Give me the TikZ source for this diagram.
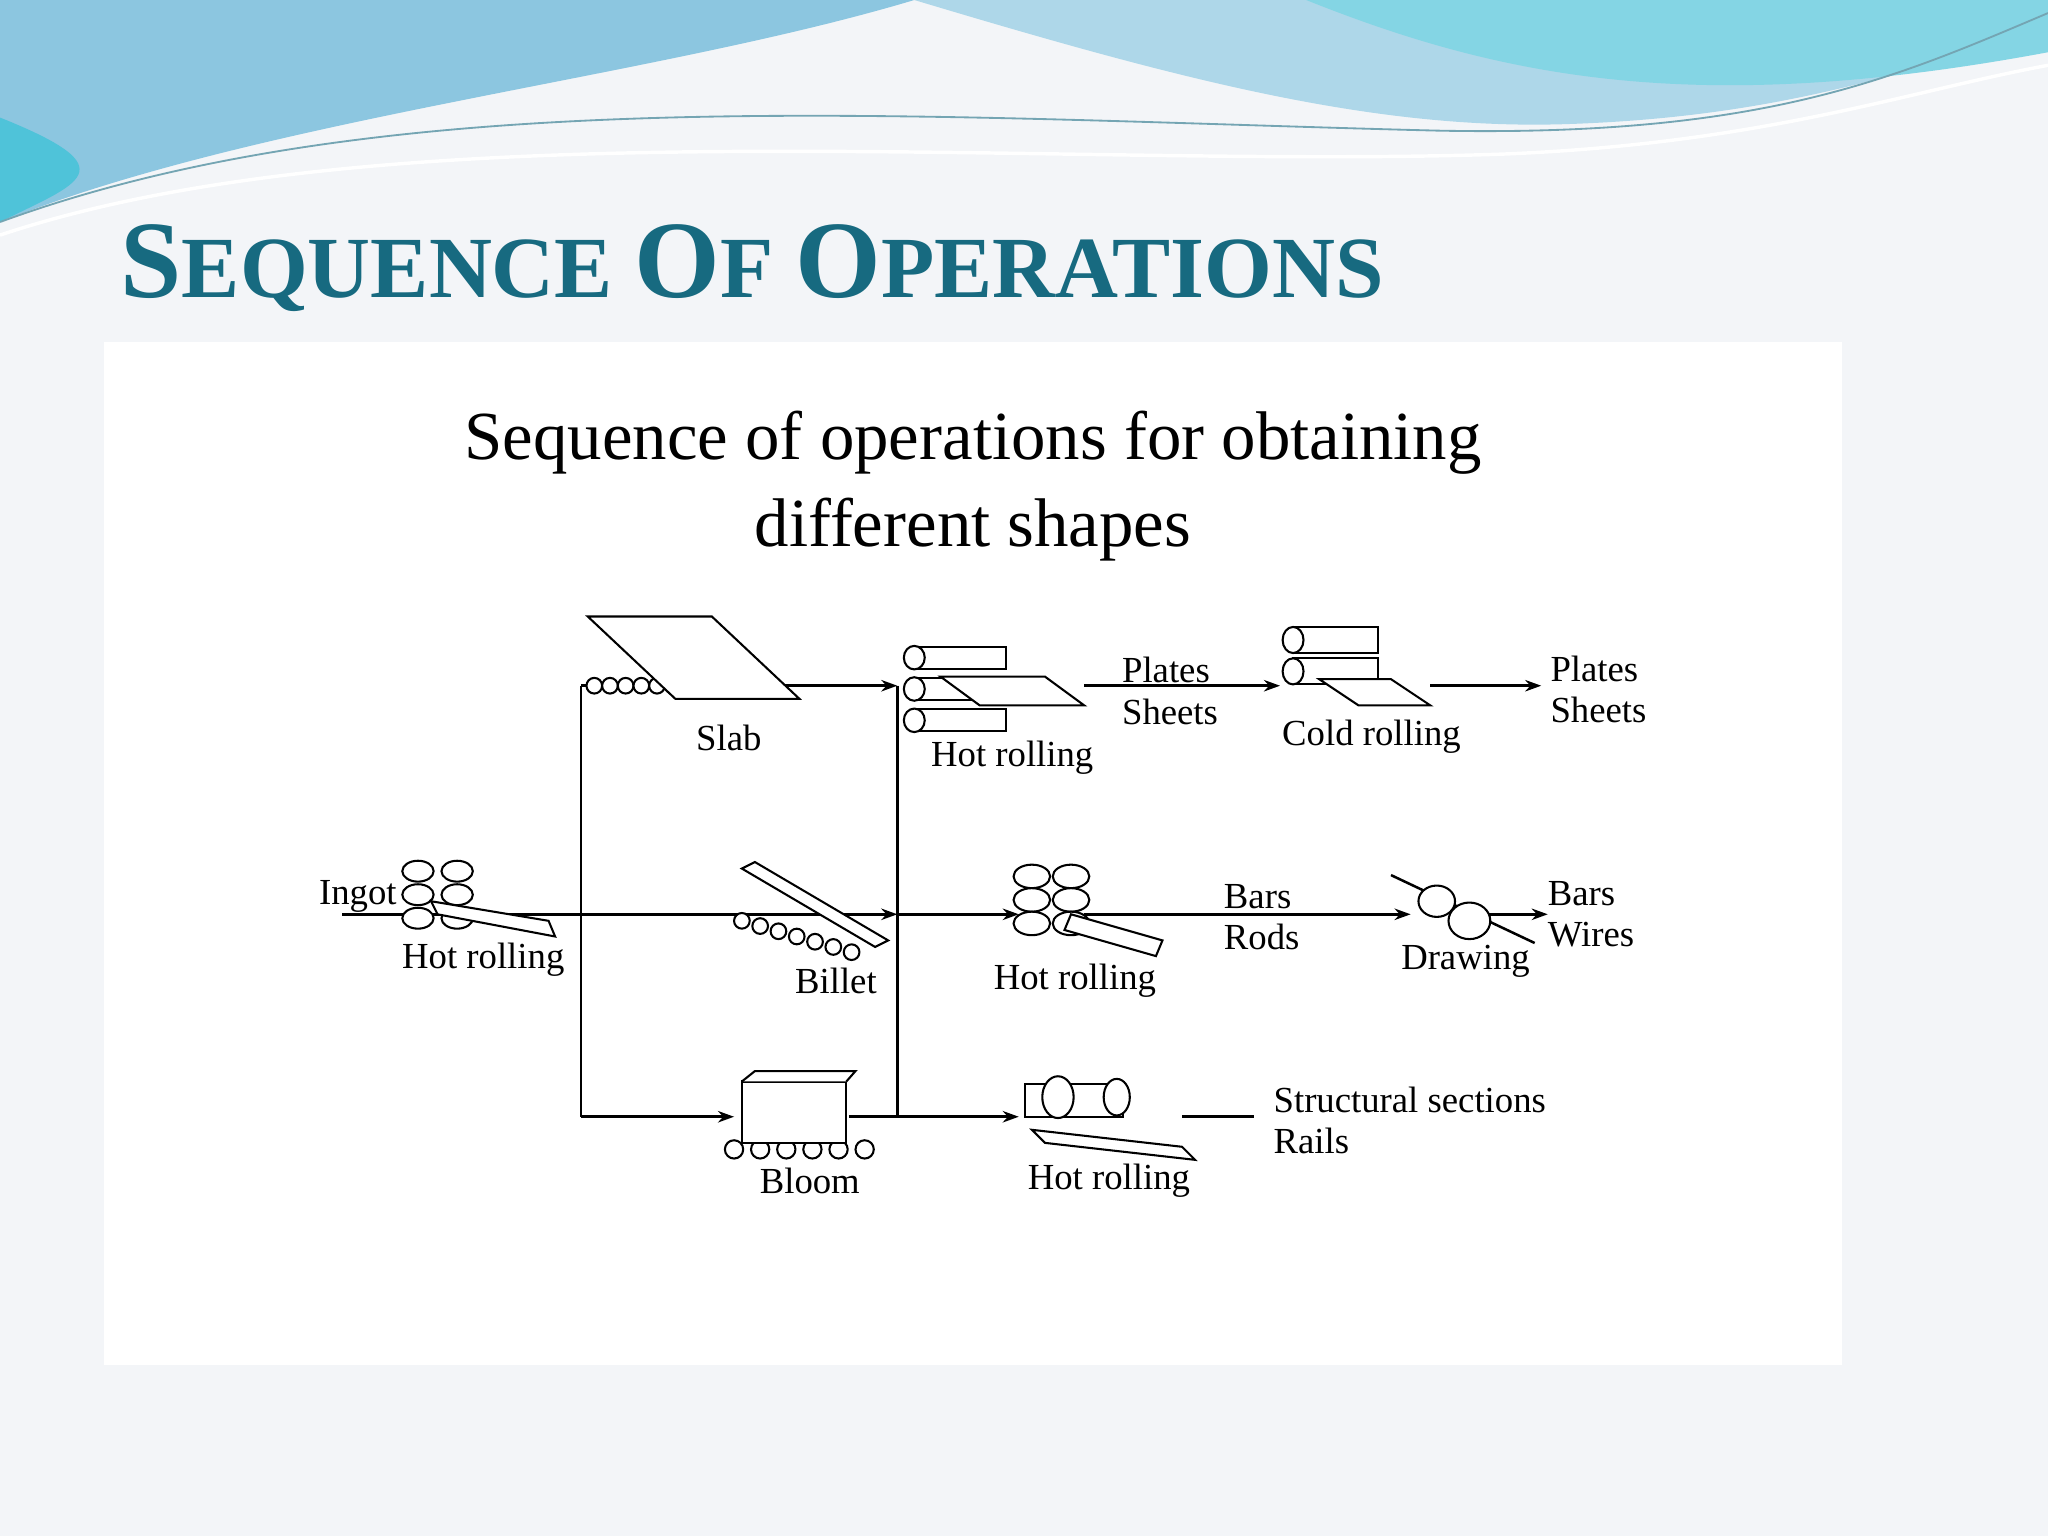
\documentclass[tikz,border=0pt]{standalone}
\usepackage{fontspec}
\setmainfont{Liberation Serif}
\usetikzlibrary{arrows.meta}
\definecolor{teal1}{HTML}{176A80}
\definecolor{wave1}{HTML}{4FC3D9}
\definecolor{wave2}{HTML}{8CC6E0}
\definecolor{bgc}{HTML}{F3F5F8}
\begin{document}
\begin{tikzpicture}[x=0.02cm,y=-0.02cm,
  lab/.style={font=\fontsize{16}{18}\selectfont, inner sep=1pt},
  ln/.style={line width=1.1pt},
  arr/.style={ln,-{Stealth[length=7pt,width=5pt]}},
  eq/.style={draw,line width=0.9pt,fill=white}]
\useasboundingbox (0,0) rectangle (1568,1176);
\fill[bgc] (0,0) rectangle (1568,1176);
% waves
\fill[wave2] (0,0) -- (700,0) .. controls (500,60) and (200,90) .. (0,170) -- cycle;
\fill[wave1] (0,90) .. controls (100,130) and (60,140) .. (0,170) -- cycle;
\fill[wave2!70] (700,0) .. controls (900,60) and (1050,100) .. (1200,95) .. controls (1350,90) and (1450,60) .. (1568,20) -- (1568,0) -- cycle;
\fill[wave1!70] (1000,0) .. controls (1150,60) and (1300,90) .. (1568,40) -- (1568,0) -- cycle;
\draw[teal1!60,line width=0.8pt] (0,170) .. controls (300,60) and (700,90) .. (1100,100) .. controls (1350,105) and (1450,60) .. (1568,10);
\draw[white,line width=1.5pt] (0,180) .. controls (300,80) and (800,130) .. (1150,118) .. controls (1350,110) and (1460,70) .. (1568,50);
% title
\node[anchor=west,text=teal1,font=\bfseries,inner sep=0] (title) at (92,205)
 {\fontsize{48}{52}\selectfont S\fontsize{38}{42}\selectfont EQUENCE \fontsize{48}{52}\selectfont O\fontsize{38}{42}\selectfont F \fontsize{48}{52}\selectfont O\fontsize{38}{42}\selectfont PERATIONS};
% panel
\fill[white] (80,262) rectangle (1410,1045);
\node[font=\fontsize{30}{38}\selectfont,align=center] (sub) at (745,372) {Sequence of operations for obtaining\\different shapes};
% coordinates
\coordinate (in0) at (262,700);
\coordinate (j1) at (445,700);
\coordinate (j1t) at (445,525);
\coordinate (j1b) at (445,855);
\coordinate (j2) at (687,700);
\coordinate (j2t) at (687,525);
\coordinate (j2b) at (687,855);
% connectors (under icons)
\draw[ln] (in0) -- (j1);
\draw[ln] (j1t) -- (j1b);
\draw[arr] (j1t) -- (j2t);
\draw[ln] (j2t) -- (j2b);
\draw[arr] (j1) -- (j2);
\draw[arr] (j2) -- (780,700);
\draw[arr] (j1b) -- (562,855);
\draw[ln] (650,855) -- (j2b);
\draw[arr] (j2b) -- (780,855);
\draw[ln] (830,700) -- (920,700);
\draw[arr] (920,700) -- (1080,700);
\draw[arr] (1140,700) -- (1185,700);
\draw[arr] (830,525) -- (980,525);
\draw[arr] (1095,525) -- (1180,525);
\draw[ln] (905,855) -- (960,855);
% ingot rolling
\node[inner sep=0] (hr0) at (370,690) {};
\foreach \dy in {-18,0,18}{\draw[eq] (320,685+\dy) ellipse (12 and 8);\draw[eq] (350,685+\dy) ellipse (12 and 8);}
\draw[eq] (330,690) -- (420,705) -- (425,717) -- (335,700) -- cycle;
% slab
\foreach \i in {0,...,6}{\draw[eq] (455+\i*12,525) circle (6);}
\draw[eq] (450,472) -- (545,472) -- (612,535) -- (517,535) -- cycle;
\node[inner sep=0] (slab) at (530,505) {};
% billet
\foreach \i in {0,...,6}{\draw[eq] (568+\i*14,705+\i*4) circle (6);}
\draw[eq] (568,665) -- (578,660) -- (680,720) -- (670,725) -- cycle;
\node[inner sep=0] (billet) at (620,700) {};
% bloom
\foreach \i in {0,...,5}{\draw[eq] (562+\i*20,880) circle (7);}
\draw[eq] (568,828) rectangle (648,875);
\draw[eq] (568,828) -- (578,820) -- (655,820) -- (648,828);
\node[inner sep=0] (bloom) at (610,850) {};
% hot rolling plates
\foreach \dy in {0,24,48}{\draw[eq] (700,495+\dy) rectangle (770,512+\dy);\draw[eq] (700,503.5+\dy) ellipse (8 and 9);}
\draw[eq] (720,518) -- (800,518) -- (830,540) -- (750,540) -- cycle;
\node[inner sep=0] (hrp) at (760,520) {};
% cold rolling
\foreach \dy in {0,24}{\draw[eq] (990,480+\dy) rectangle (1055,500+\dy);\draw[eq] (990,490+\dy) ellipse (8 and 10);}
\draw[eq] (1010,520) -- (1065,520) -- (1095,540) -- (1040,540) -- cycle;
\node[inner sep=0] (cr) at (1040,515) {};
% hot rolling bars
\foreach \dy in {-14,4,22}{\draw[eq] (790,685+\dy) ellipse (14 and 9);\draw[eq] (820,685+\dy) ellipse (14 and 9);}
\draw[eq] (820,700) -- (890,720) -- (885,732) -- (815,712) -- cycle;
\node[inner sep=0] (hrb) at (830,700) {};
% drawing
\draw[ln] (1065,670) -- (1175,722);
\draw[eq] (1100,690) ellipse (14 and 12);
\draw[eq] (1125,705) ellipse (16 and 14);
\node[inner sep=0] (draw) at (1115,700) {};
% hot rolling structural
\draw[eq] (785,830) rectangle (860,855);
\draw[eq] (810,840) ellipse (12 and 16);
\draw[eq] (855,840) ellipse (10 and 14);
\draw[eq] (790,865) -- (905,878) -- (915,888) -- (800,875) -- cycle;
\node[inner sep=0] (hrs) at (850,860) {};
% labels
\node[lab] (lslab) at (558,565) {Slab};
\node[lab,align=left,anchor=west] (lps1) at (857,529) {Plates\\Sheets};
\node[lab] (lhr1) at (775,580) {Hot rolling};
\node[lab] (lcr) at (1050,564) {Cold rolling};
\node[lab,align=left,anchor=west] (lps2) at (1185,528) {Plates\\Sheets};
\node[lab] (ling) at (274,686) {Ingot};
\node[lab] (lhr0) at (370,735) {Hot rolling};
\node[lab] (lbil) at (640,751) {Billet};
\node[lab] (lhr2) at (823,751) {Hot rolling};
\node[lab,align=left,anchor=west] (lbr) at (935,702) {Bars\\Rods};
\node[lab] (ldr) at (1122,736) {Drawing};
\node[lab,align=left,anchor=west] (lbw) at (1183,700) {Bars\\Wires};
\node[lab] (lbl) at (620,904) {Bloom};
\node[lab] (lhr3) at (849,904) {Hot rolling};
\node[lab,align=left,anchor=west] (lss) at (973,858) {Structural sections\\Rails};
\end{tikzpicture}
\end{document}
